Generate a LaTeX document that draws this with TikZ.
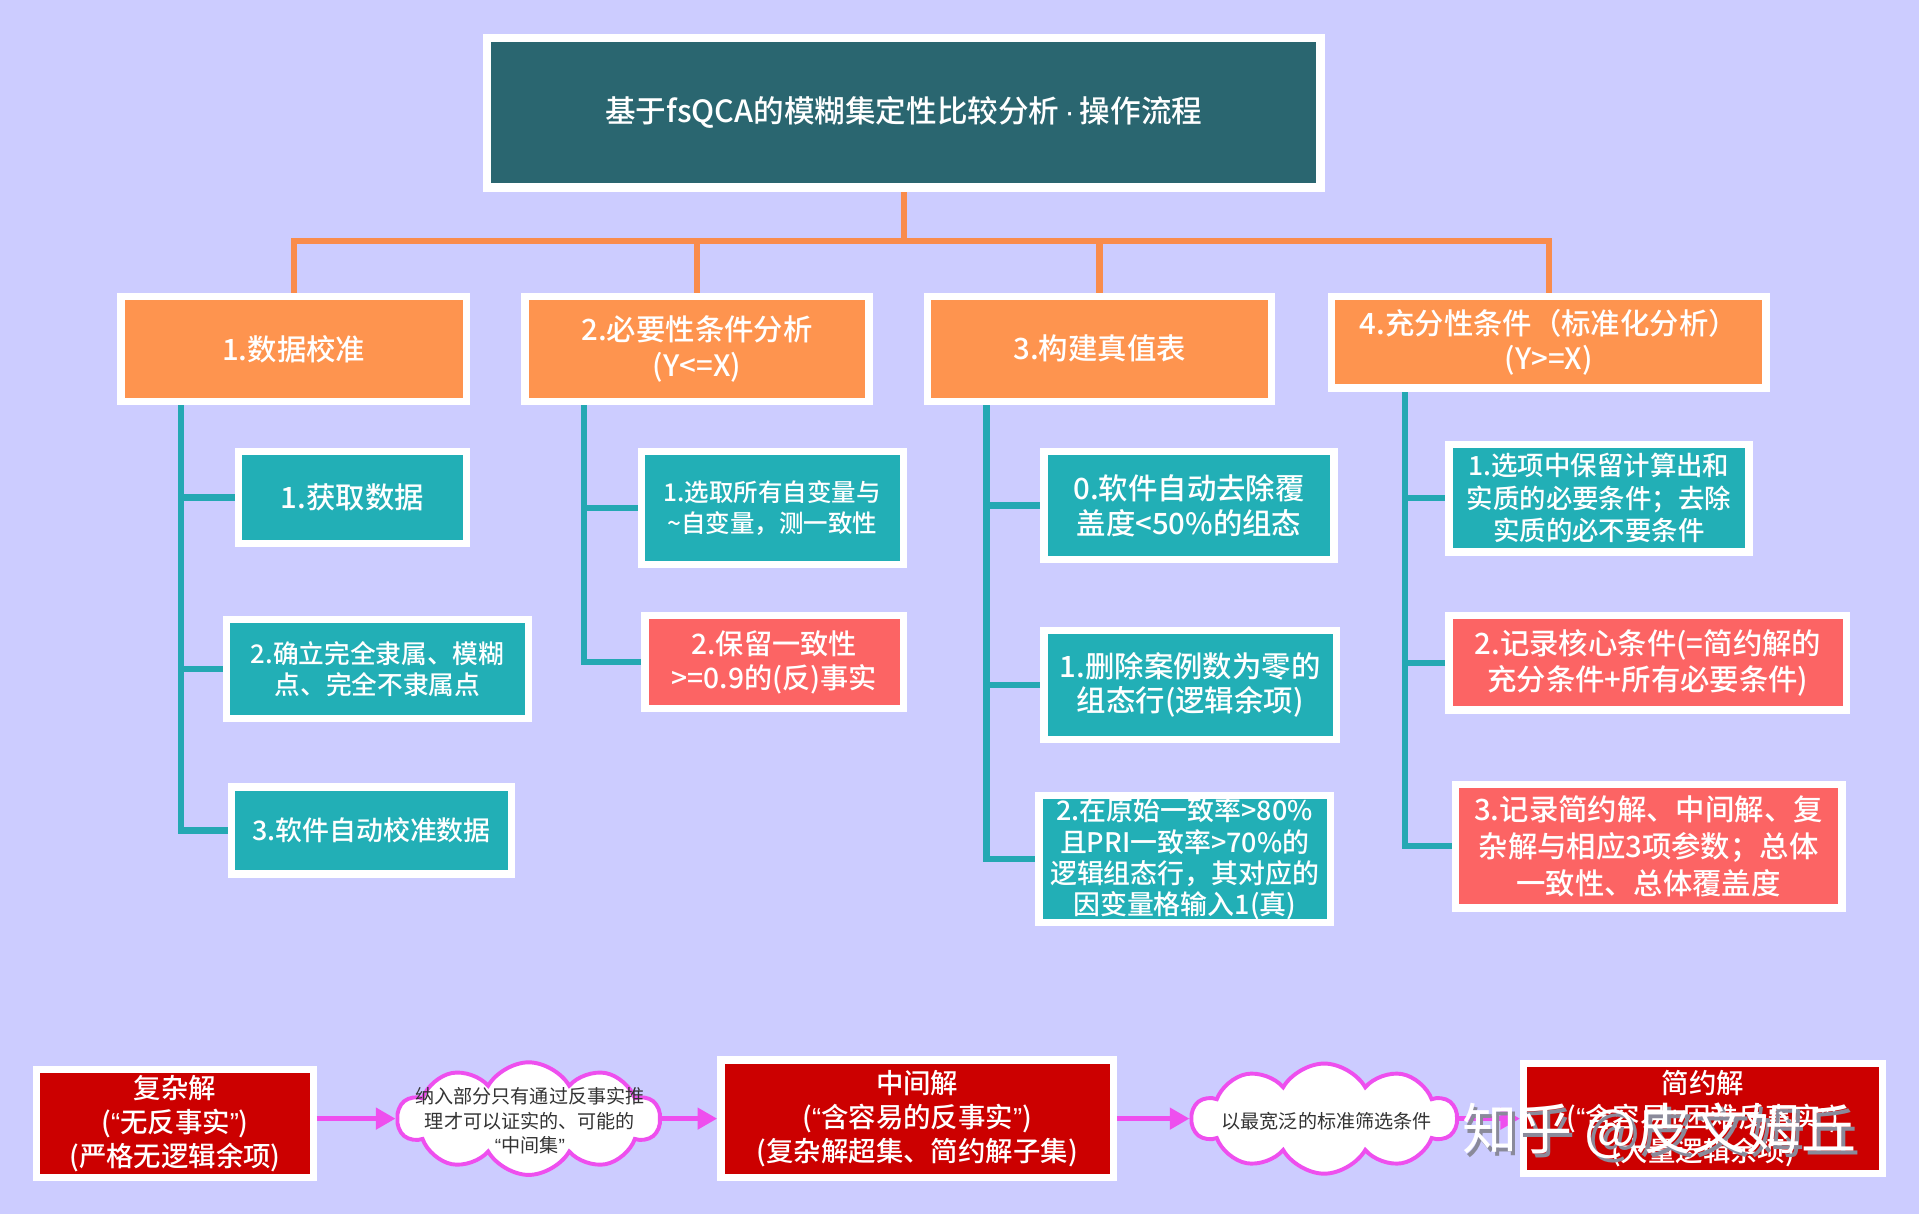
\documentclass[tikz,border=0pt]{standalone}
\usepackage{fontspec}
\newfontfamily\cjk[UprightFont={* Medium}]{Noto Sans CJK SC}
\newfontfamily\cjkreg{Noto Sans CJK SC}
\newfontfamily\latinf{Liberation Sans}
\usetikzlibrary{shapes.symbols,arrows.meta}
\definecolor{bgc}{HTML}{CCCCFF}
\definecolor{titlec}{HTML}{2A6670}
\definecolor{orangec}{HTML}{FE944F}
\definecolor{tealc}{HTML}{22AFB6}
\definecolor{redc}{HTML}{FC6464}
\definecolor{darkredc}{HTML}{CC0000}
\definecolor{orlc}{HTML}{F98C4C}
\definecolor{tllc}{HTML}{24A8B3}
\definecolor{magc}{HTML}{EE4FEE}
\definecolor{textgray}{HTML}{333333}
\definecolor{shadowc}{HTML}{8A8A9A}
\newcommand{\myLQ}{{\latinf “}}
\newcommand{\myRQ}{{\latinf ”}}
\pgfdeclarelayer{bglayer}
\pgfdeclarelayer{linelayer}
\pgfsetlayers{bglayer,linelayer,main}
\begin{document}
\begin{tikzpicture}[x=0.5pt,y=-0.5pt,
  box/.style={draw=white, line width=3pt, inner sep=0pt, align=center, text=white},
  titlebox/.style={box, fill=titlec, line width=3.5pt, font=\cjk\fontsize{12.5}{15}\selectfont},
  lonebox/.style={box, fill=orangec, font=\cjk\fontsize{12}{14.5}\selectfont},
  tealbox/.style={box, fill=tealc},
  redbox/.style={box, fill=redc},
  solbox/.style={box, fill=darkredc, font=\cjk\fontsize{11.2}{13.8}\selectfont},
  cloudbox/.style={cloud, cloud puffs=10, cloud puff arc=120, cloud ignores aspect, draw=magc, line width=1.6pt, fill=white, inner sep=0pt},
  cloudtext/.style={inner sep=0pt, align=center, text=textgray, font=\cjkreg\fontsize{7.8}{10}\selectfont},
  orline/.style={draw=orlc, line width=2.6pt},
  tlline/.style={draw=tllc, line width=2.6pt},
  magarrow/.style={draw=magc, line width=2pt, -{Triangle[length=8pt,width=8.5pt]}},
  fs/.style 2 args={font=\cjk\fontsize{#1}{#2}\selectfont}
]
\useasboundingbox (0,0) rectangle (1568,992);
\begin{pgfonlayer}{bglayer}
\fill[bgc] (0,0) rectangle (1568,992);
\end{pgfonlayer}

% title
\node[titlebox, minimum width=340.5pt, minimum height=61pt] (title) at (738.5,92) {基于fsQCA的模糊集定性比较分析{\latinf\,·\,}操作流程};

% level 1
\node[lonebox, minimum width=141pt, minimum height=43pt] (n1) at (240,285) {1.数据校准};
\node[lonebox, minimum width=140.5pt, minimum height=43pt] (n2) at (569.5,285) {2.必要性条件分析\\(Y<=X)};
\node[lonebox, minimum width=140.5pt, minimum height=43pt] (n3) at (898.5,285) {3.构建真值表};
\node[lonebox, minimum width=177.5pt, minimum height=37.5pt] (n4) at (1265.5,279.5) {4.充分性条件（标准化分析）\\(Y>=X)};

% group 1
\node[tealbox, fs={12}{14.5}, minimum width=93pt, minimum height=37.5pt] (g1a) at (288,406.5) {1.获取数据};
\node[tealbox, fs={10.5}{12.5}, minimum width=123.5pt, minimum height=40.5pt] (g1b) at (308.5,546.5) {2.确立完全隶属、模糊\\点、完全不隶属点};
\node[tealbox, fs={11}{13}, minimum width=114.5pt, minimum height=35.5pt] (g1c) at (303.5,678.5) {3.软件自动校准数据};

% group 2
\node[tealbox, fs={10}{12.5}, minimum width=107pt, minimum height=46pt] (g2a) at (631,415) {1.选取所有自变量与\\\textasciitilde 自变量，测一致性};
\node[redbox, fs={11.5}{14}, minimum width=105.5pt, minimum height=38pt] (g2b) at (632.5,541) {2.保留一致性\\>=0.9的(反)事实};

% group 3
\node[tealbox, fs={12}{14.5}, minimum width=118.5pt, minimum height=44pt] (g3a) at (971.5,413) {0.软件自动去除覆\\盖度<50\%的组态};
\node[tealbox, fs={12}{14}, minimum width=119.5pt, minimum height=44.5pt] (g3b) at (972.5,559.5) {1.删除案例数为零的\\组态行(逻辑余项)};
\node[tealbox, fs={11}{12.8}, minimum width=119pt, minimum height=52pt] (g3c) at (968,702) {2.在原始一致率>80\%\\且PRI一致率>70\%的\\逻辑组态行，其对应的\\因变量格输入1(真)};

% group 4
\node[tealbox, fs={10.8}{13.2}, minimum width=122.5pt, minimum height=44pt] (g4a) at (1306.5,407) {1.选项中保留计算出和\\实质的必要条件；去除\\实质的必不要条件};
\node[redbox, fs={12}{14.5}, minimum width=162.5pt, minimum height=38.5pt] (g4b) at (1346.5,541.5) {2.记录核心条件(=简约解的\\充分条件+所有必要条件)};
\node[redbox, fs={12}{15}, minimum width=158pt, minimum height=50.5pt] (g4c) at (1347,691.5) {3.记录简约解、中间解、复\\杂解与相应3项参数；总体\\一致性、总体覆盖度};

% bottom row
\node[solbox, minimum width=113pt, minimum height=44pt] (b1) at (143,918) {复杂解\\(\myLQ 无反事实\myRQ)\\(严格无逻辑余项)};
\node[cloudbox, minimum width=107pt, minimum height=46pt] (c1) at (432,914) {};
\node[cloudtext] (c1t) at (433,916) {纳入部分只有通过反事实推\\理才可以证实的、可能的\\\myLQ 中间集\myRQ};
\node[solbox, minimum width=160.5pt, minimum height=48pt] (b2) at (749.5,914) {中间解\\(\myLQ 含容易的反事实\myRQ)\\(复杂解超集、简约解子集)};
\node[cloudbox, minimum width=108pt, minimum height=45pt] (c2) at (1082,914) {};
\node[cloudtext] (c2t) at (1084,916) {以最宽泛的标准筛选条件};
\node[solbox, minimum width=146.5pt, minimum height=45pt] (b3) at (1391.5,914) {简约解\\(\myLQ 含容易+困难反事实\myRQ)\\(大量逻辑余项)};

% connectors
\begin{pgfonlayer}{linelayer}
\draw[orline] (title.south) -- (title.south |- 0,197);
\draw[orline, line cap=rect] (n1.north |- 0,197) -- (n4.north |- 0,197);
\foreach \n in {n1,n2,n3,n4} {\draw[orline] (\n.north |- 0,197) -- (\n.north);}
% group 1
\draw[tlline] (148,0 |- n1.south) -- (148,0 |- g1c.west) -- (g1c.west);
\draw[tlline] (148,0 |- g1a.west) -- (g1a.west);
\draw[tlline] (148,0 |- g1b.west) -- (g1b.west);
% group 2
\draw[tlline] (477,0 |- n2.south) -- (477,0 |- g2b.west) -- (g2b.west);
\draw[tlline] (477,0 |- g2a.west) -- (g2a.west);
% group 3
\draw[tlline] (806,0 |- n3.south) -- (806,0 |- g3c.west) -- (g3c.west);
\draw[tlline] (806,0 |- g3a.west) -- (g3a.west);
\draw[tlline] (806,0 |- g3b.west) -- (g3b.west);
% group 4
\draw[tlline] (1148,0 |- n4.south) -- (1148,0 |- g4c.west) -- (g4c.west);
\draw[tlline] (1148,0 |- g4a.west) -- (g4a.west);
\draw[tlline] (1148,0 |- g4b.west) -- (g4b.west);
\end{pgfonlayer}

% arrows
\draw[magarrow] (b1.east |- c1.west) -- (c1.west);
\draw[magarrow] (c1.east) -- (b2.west |- c1.east);
\draw[magarrow] (b2.east |- c2.west) -- (c2.west);
\draw[magarrow] (c2.east) -- (b3.west |- c2.east);

% watermark
\node[text=shadowc, font=\cjkreg\fontsize{22.5}{24}\selectfont, inner sep=0pt] (wmshadow) at (1359,927) {知乎 @皮文姆丘};
\node[text=white, font=\cjkreg\fontsize{22.5}{24}\selectfont, inner sep=0pt] (wm) at (1356,924) {知乎 @皮文姆丘};
\end{tikzpicture}
\end{document}
